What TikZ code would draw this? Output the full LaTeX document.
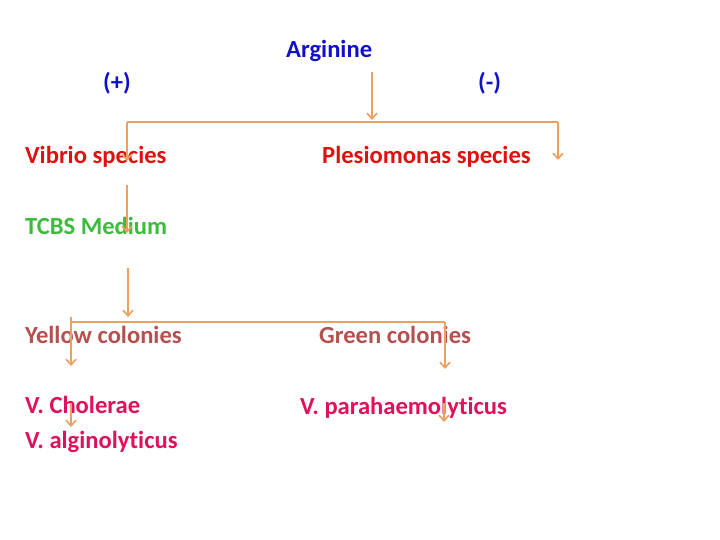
\documentclass[tikz,border=0pt]{standalone}
\usepackage{fontspec}
\setmainfont{Carlito}[Ligatures=NoCommon]
\usepackage{tikz}
\usetikzlibrary{arrows.meta}
\definecolor{argblue}{HTML}{1010CC}
\definecolor{genred}{HTML}{E01010}
\definecolor{medgreen}{HTML}{3CBB3C}
\definecolor{colbrown}{HTML}{B4504F}
\definecolor{sppink}{HTML}{E0105C}
\definecolor{flow}{HTML}{EDA05F}
\tikzset{
  lab/.style={anchor=base west, inner sep=0pt, font=\fontsize{24.6}{28}\selectfont\bfseries},
  lnk/.style={draw=flow, line width=2pt},
  arr/.style={lnk, -{Straight Barb[length=5.5pt,width=10pt,line width=1.7pt]}},
}
\begin{document}
\begin{tikzpicture}[x=1pt,y=-1pt]
  \useasboundingbox (0,0) rectangle (720,540);
  % texts
  \node[lab, text=argblue] (arg) at (286,58) {Arginine};
  \node[lab, text=argblue] (pos) at (103,91) {(+)};
  \node[lab, text=argblue] (neg) at (478,91) {(-)};
  \node[lab, text=genred] (vib) at (25,164) {Vibrio species};
  \node[lab, text=genred] (ple) at (322,164) {Plesiomonas species};
  \node[lab, text=medgreen] (tcbs) at (25,235) {TCBS Medium};
  \node[lab, text=colbrown] (yel) at (25,343) {Yellow colonies};
  \node[lab, text=colbrown] (grn) at (319,343) {Green colonies};
  \node[lab, text=sppink] (cho) at (25,413) {V. Cholerae};
  \node[lab, text=sppink] (alg) at (25,448) {V. alginolyticus};
  \node[lab, text=sppink] (par) at (300,414) {V. parahaemolyticus};
  % points of the arrows
  \coordinate (a1) at (372,72);  \coordinate (a2) at (372,120);
  \coordinate (b1) at (127,122); \coordinate (b2) at (558,122);
  \coordinate (b3) at (127,161); \coordinate (b4) at (558,160);
  \coordinate (c1) at (127,185); \coordinate (c2) at (127,233);
  \coordinate (d1) at (128,268); \coordinate (d2) at (128,317);
  \coordinate (e1) at (71,322);  \coordinate (e2) at (445,322);
  \coordinate (e0) at (71,317);
  \coordinate (e3) at (71,366);  \coordinate (e4) at (445,369);
  \coordinate (f1) at (71,403);  \coordinate (f2) at (71,427);
  \coordinate (g1) at (444,403); \coordinate (g2) at (444,422);
  % arrows
  \draw[arr] (a1) -- (a2);
  \draw[lnk] (b1) -- (b2);
  \draw[arr] (b1) -- (b3);
  \draw[arr] (b2) -- (b4);
  \draw[arr] (c1) -- (c2);
  \draw[arr] (d1) -- (d2);
  \draw[lnk] (e1) -- (e2);
  \draw[arr] (e0) -- (e3);
  \draw[arr] (e2) -- (e4);
  \draw[arr] (f1) -- (f2);
  \draw[arr] (g1) -- (g2);
\end{tikzpicture}
\end{document}
